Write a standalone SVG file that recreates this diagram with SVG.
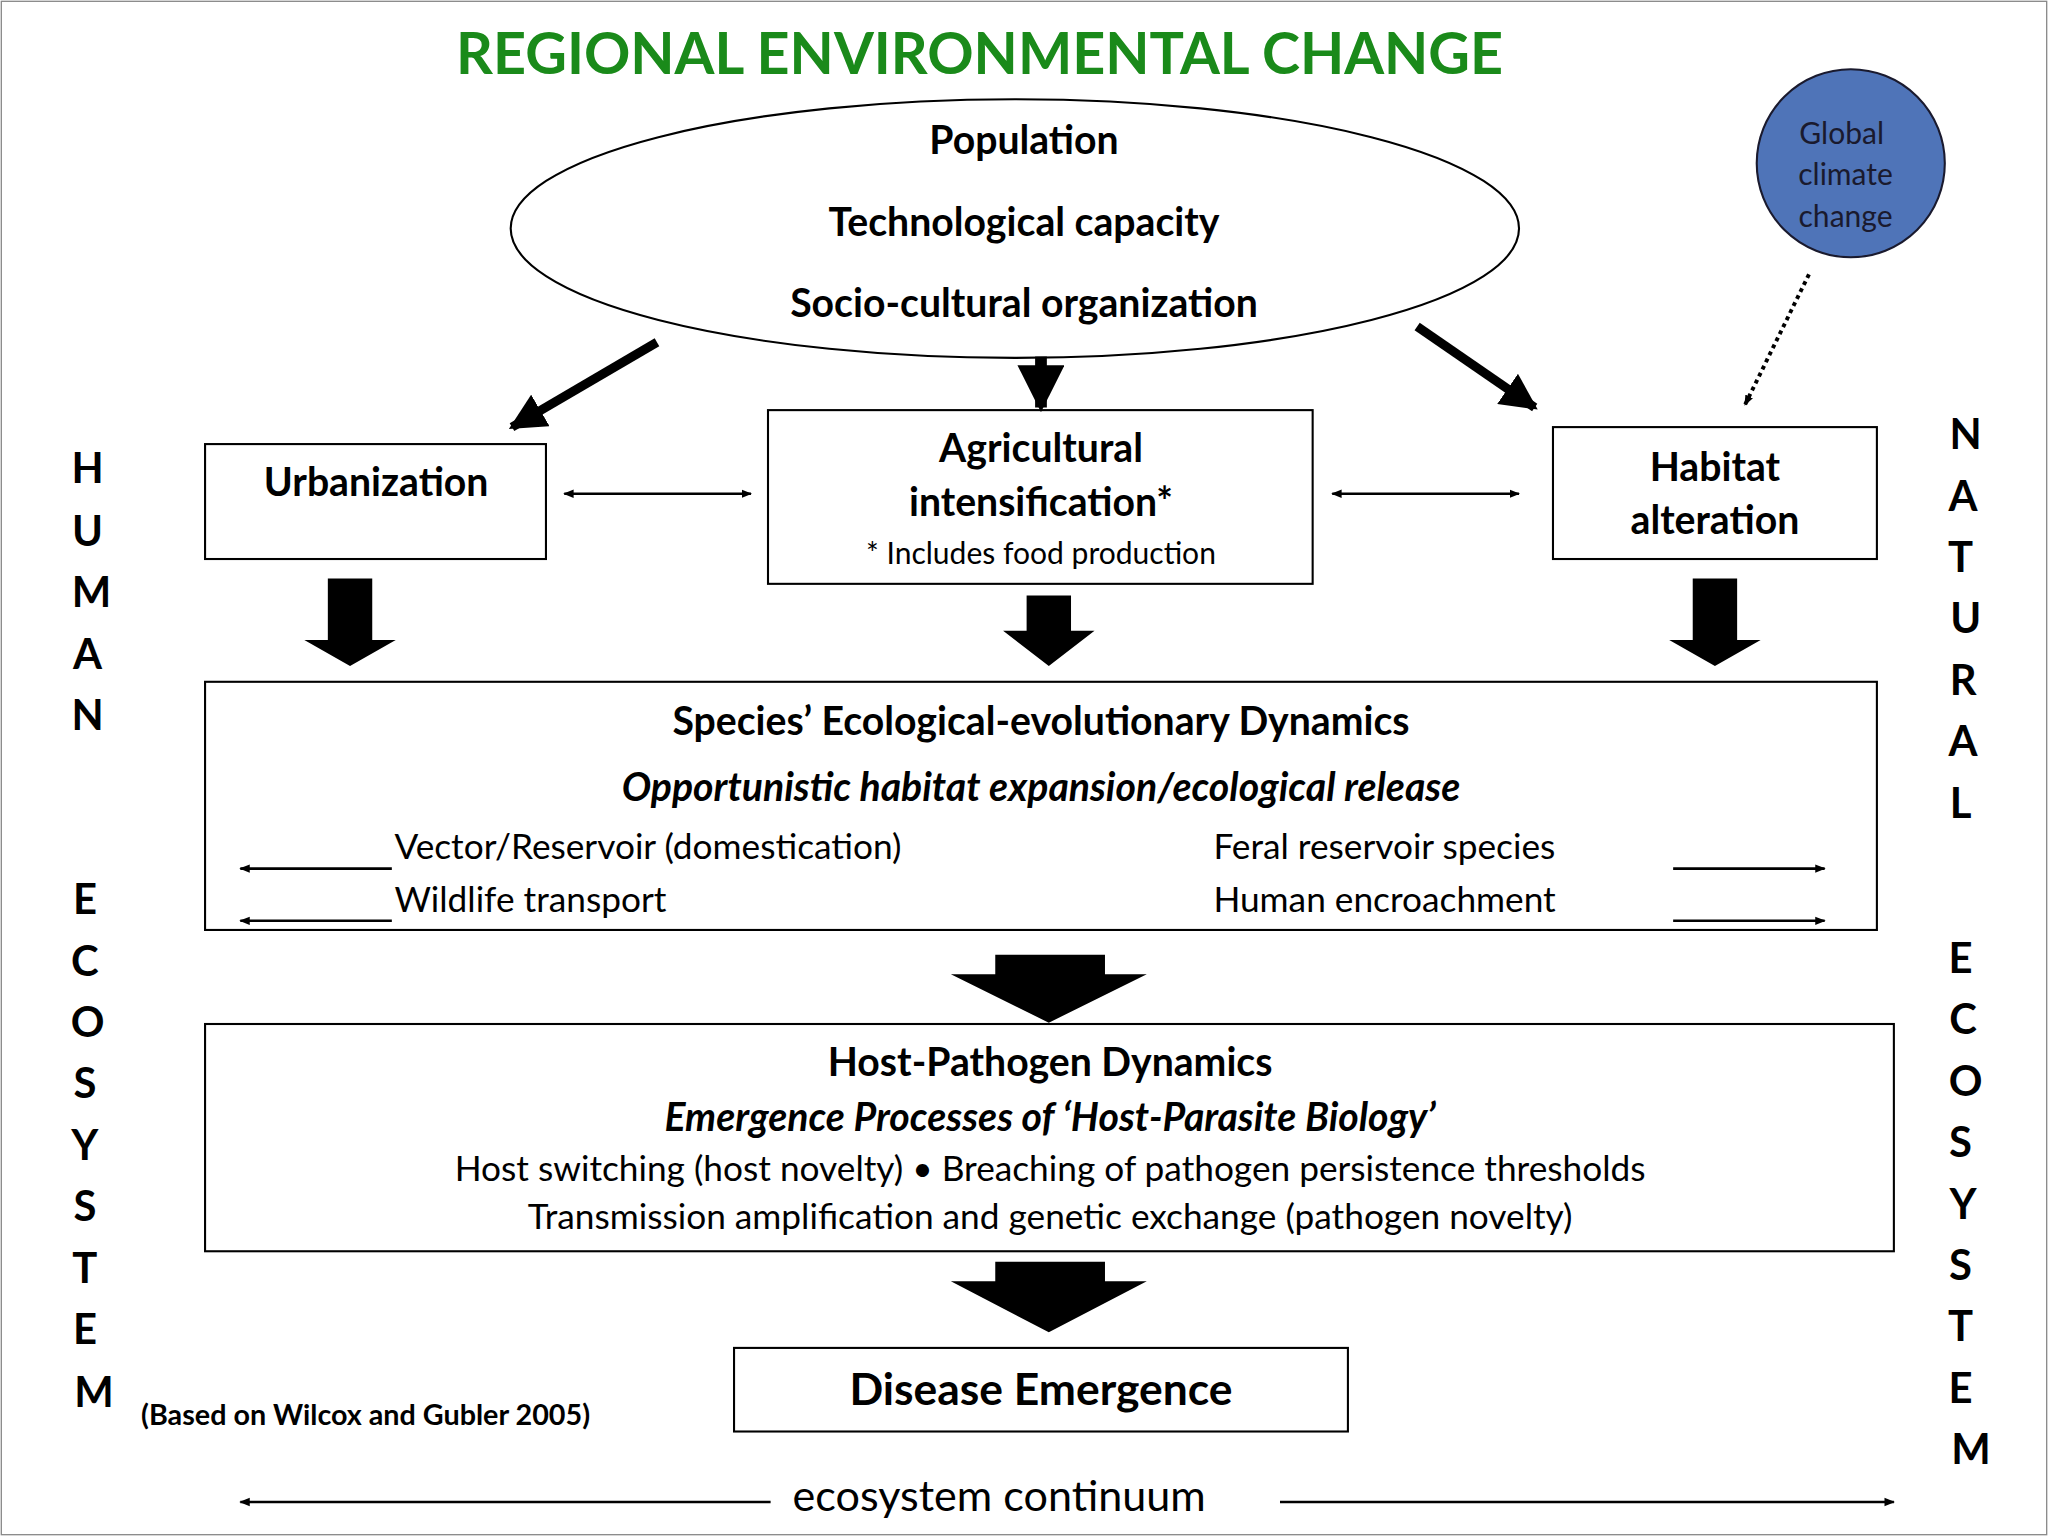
<svg xmlns="http://www.w3.org/2000/svg" width="2048" height="1536" viewBox="0 0 2048 1536">
<defs>
<style>
.b{font-family:Lato,"Open Sans",sans-serif;font-weight:bold;fill:#000}
.n{font-family:Lato,"Open Sans",sans-serif;fill:#000}
.bx{fill:#fff;stroke:#000;stroke-width:1.6}
.ln{stroke:#000;stroke-width:2;fill:none}
</style>
<marker id="ah" viewBox="0 0 10 10" refX="9" refY="5" markerWidth="8" markerHeight="8" orient="auto-start-reverse" markerUnits="userSpaceOnUse"><path d="M0,1 L10,5 L0,9 z" fill="#000"/></marker>
<marker id="big" viewBox="0 0 10 10" refX="9" refY="5" markerWidth="4" markerHeight="4" orient="auto"><path d="M0,0 L10,5 L0,10 z" fill="#000"/></marker>
</defs>
<rect width="2048" height="1536" fill="#fff"/>
<g transform="scale(1.30612)">
<rect x="1" y="1" width="1566" height="1174" fill="none" stroke="#888" stroke-width="1"/>
<text class="b" x="750" y="57" font-size="44" text-anchor="middle" fill="#1a8a1a" style="fill:#1a8a1a">REGIONAL ENVIRONMENTAL CHANGE</text>

<g id="drivers">
<ellipse cx="777" cy="175" rx="386" ry="99" fill="#fff" stroke="#000" stroke-width="1.6"/>
<text class="b" x="784" y="118" font-size="30" text-anchor="middle">Population</text>
<text class="b" x="784" y="181" font-size="30" text-anchor="middle">Technological capacity</text>
<text class="b" x="784" y="243" font-size="30" text-anchor="middle">Socio-cultural organization</text>
</g>
<g id="climate">
<circle cx="1417" cy="125" r="72" fill="#4f74b8" stroke="#1a1a2e" stroke-width="1.6"/>
<text class="n" x="1410" y="110" font-size="23" text-anchor="middle" style="fill:#1a1a2e">Global</text>
<text class="n" x="1413" y="142" font-size="23" text-anchor="middle" style="fill:#1a1a2e">climate</text>
<text class="n" x="1413" y="174" font-size="23" text-anchor="middle" style="fill:#1a1a2e">change</text>
</g>
<g id="urban"><rect class="bx" x="157" y="340" width="261" height="88"/>
<text class="b" x="288" y="380" font-size="30" text-anchor="middle">Urbanization</text></g>
<g id="agri"><rect class="bx" x="588" y="314" width="417" height="133"/>
<text class="b" x="797" y="354" font-size="30" text-anchor="middle">Agricultural</text>
<text class="b" x="797" y="395" font-size="30" text-anchor="middle">intensification*</text>
<text class="n" x="797" y="432" font-size="23" text-anchor="middle">* Includes food production</text></g>
<g id="habitat"><rect class="bx" x="1189" y="327" width="248" height="101"/>
<text class="b" x="1313" y="368" font-size="30" text-anchor="middle">Habitat</text>
<text class="b" x="1313" y="409" font-size="30" text-anchor="middle">alteration</text></g>
<g id="species"><rect class="bx" x="157" y="522" width="1280" height="190"/>
<text class="b" x="797" y="563" font-size="30" text-anchor="middle">Species’ Ecological-evolutionary Dynamics</text>
<text class="b" x="797" y="613" font-size="30" text-anchor="middle" font-style="italic">Opportunistic habitat expansion/ecological release</text>
<text class="n" x="302" y="658" font-size="27">Vector/Reservoir (domestication)</text>
<text class="n" x="302" y="698" font-size="27">Wildlife transport</text>
<text class="n" x="929" y="658" font-size="27">Feral reservoir species</text>
<text class="n" x="929" y="698" font-size="27">Human encroachment</text></g>
<g id="host"><rect class="bx" x="157" y="784" width="1293" height="174"/>
<text class="b" x="804" y="824" font-size="30" text-anchor="middle">Host-Pathogen Dynamics</text>
<text class="b" x="804" y="866" font-size="30" text-anchor="middle" font-style="italic">Emergence Processes of ‘Host-Parasite Biology’</text>
<text class="n" x="804" y="904" font-size="27" text-anchor="middle">Host switching (host novelty) • Breaching of pathogen persistence thresholds</text>
<text class="n" x="804" y="941" font-size="27" text-anchor="middle">Transmission amplification and genetic exchange (pathogen novelty)</text></g>
<g id="disease"><rect class="bx" x="562" y="1032" width="470" height="64"/>
<text class="b" x="797" y="1076" font-size="34" text-anchor="middle">Disease Emergence</text></g>

<g id="labels">
<g class="b" font-size="32" text-anchor="middle">
<text x="67" y="370">H</text><text x="67" y="418">U</text><text x="70" y="465">M</text><text x="67" y="512">A</text><text x="67" y="559">N</text>
<text x="65" y="700">E</text><text x="65" y="747">C</text><text x="67" y="794">O</text><text x="65" y="841">S</text><text x="65" y="888">Y</text><text x="65" y="935">S</text><text x="65" y="982">T</text><text x="65" y="1029">E</text><text x="72" y="1077">M</text>
<text x="1505" y="344">N</text><text x="1503" y="391">A</text><text x="1501" y="438">T</text><text x="1505" y="485">U</text><text x="1503" y="532">R</text><text x="1503" y="579">A</text><text x="1501" y="626">L</text>
<text x="1501" y="745">E</text><text x="1503" y="792">C</text><text x="1505" y="839">O</text><text x="1501" y="886">S</text><text x="1503" y="933">Y</text><text x="1501" y="980">S</text><text x="1501" y="1027">T</text><text x="1501" y="1074">E</text><text x="1509" y="1121">M</text>
</g>
<text class="b" x="108" y="1091" font-size="22">(Based on Wilcox and Gubler 2005)</text>
<text class="n" x="765" y="1157" font-size="33" text-anchor="middle">ecosystem continuum</text>
</g>

<g id="connectors">
<line x1="503" y1="262" x2="392" y2="327" stroke="#000" stroke-width="7" marker-end="url(#big)"/>
<line x1="797" y1="273" x2="797" y2="312" stroke="#000" stroke-width="9" marker-end="url(#big)"/>
<line x1="1085" y1="250" x2="1175" y2="312" stroke="#000" stroke-width="7" marker-end="url(#big)"/>
<line x1="1385" y1="210" x2="1336" y2="310" stroke="#000" stroke-width="3" stroke-dasharray="3,3" marker-end="url(#ah)"/>
<line class="ln" x1="432" y1="378" x2="575" y2="378" marker-start="url(#ah)" marker-end="url(#ah)"/>
<line class="ln" x1="1020" y1="378" x2="1163" y2="378" marker-start="url(#ah)" marker-end="url(#ah)"/>
<path d="M251,443 H285 V490 H303 L268,510 L233,490 H251 Z" fill="#000"/>
<path d="M786,456 H820 V483 H838 L803,510 L768,483 H786 Z" fill="#000"/>
<path d="M1296,443 H1330 V490 H1348 L1313,510 L1278,490 H1296 Z" fill="#000"/>
<path d="M762,731 H846 V746 H878 L803,783 L728,746 H762 Z" fill="#000"/>
<path d="M762,966 H846 V981 H878 L803,1020 L728,981 H762 Z" fill="#000"/>
<line class="ln" x1="300" y1="665" x2="184" y2="665" marker-end="url(#ah)"/>
<line class="ln" x1="300" y1="705" x2="184" y2="705" marker-end="url(#ah)"/>
<line class="ln" x1="1281" y1="665" x2="1397" y2="665" marker-end="url(#ah)"/>
<line class="ln" x1="1281" y1="705" x2="1397" y2="705" marker-end="url(#ah)"/>
<line class="ln" x1="590" y1="1150" x2="184" y2="1150" marker-end="url(#ah)"/>
<line class="ln" x1="980" y1="1150" x2="1450" y2="1150" marker-end="url(#ah)"/>
</g>
</g>
</svg>
